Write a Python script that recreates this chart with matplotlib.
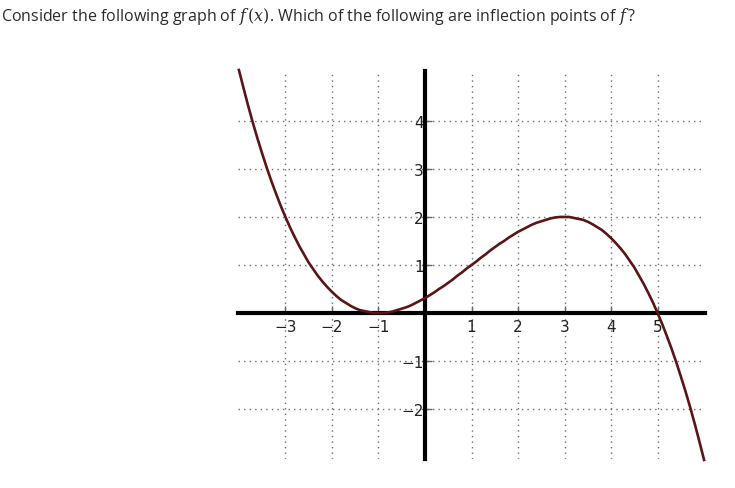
import numpy as np
import matplotlib
matplotlib.use("Agg")
import matplotlib.pyplot as plt

# Values, every 0.1 along x
x_vals = [-4.0, -3.9, -3.8, -3.7, -3.6, -3.5, -3.4, -3.3, -3.2, -3.1,
          -3.0, -2.9, -2.8, -2.7, -2.6, -2.5, -2.4, -2.3, -2.2, -2.1,
          -2.0, -1.9, -1.8, -1.7, -1.6, -1.5, -1.4, -1.3, -1.2, -1.1,
          -1.0, -0.9, -0.8, -0.7, -0.6, -0.5, -0.4, -0.3, -0.2, -0.1,
          0.0, 0.1, 0.2, 0.3, 0.4, 0.5, 0.6, 0.7, 0.8, 0.9,
          1.0, 1.1, 1.2, 1.3, 1.4, 1.5, 1.6, 1.7, 1.8, 1.9,
          2.0, 2.1, 2.2, 2.3, 2.4, 2.5, 2.6, 2.7, 2.8, 2.9,
          3.0, 3.1, 3.2, 3.3, 3.4, 3.5, 3.6, 3.7, 3.8, 3.9,
          4.0, 4.1, 4.2, 4.3, 4.4, 4.5, 4.6, 4.7, 4.8, 4.9,
          5.0, 5.1, 5.2, 5.3, 5.4, 5.5, 5.6, 5.7, 5.8, 5.9, 6.0]
y_vals = [5.06, 4.68, 4.31, 3.96, 3.63, 3.32, 3.02, 2.74, 2.48, 2.23,
          2.00, 1.78, 1.58, 1.39, 1.22, 1.05, 0.91, 0.77, 0.65, 0.54,
          0.44, 0.35, 0.27, 0.21, 0.15, 0.10, 0.06, 0.04, 0.02, 0.00,
          0.00, 0.00, 0.01, 0.03, 0.06, 0.09, 0.12, 0.16, 0.21, 0.26,
          0.31, 0.37, 0.43, 0.50, 0.56, 0.63, 0.70, 0.78, 0.85, 0.93,
          1.00, 1.07, 1.15, 1.22, 1.30, 1.37, 1.44, 1.50, 1.57, 1.63,
          1.69, 1.74, 1.79, 1.84, 1.88, 1.91, 1.94, 1.97, 1.99, 2.00,
          2.00, 2.00, 1.98, 1.96, 1.94, 1.90, 1.85, 1.79, 1.73, 1.65,
          1.56, 1.46, 1.35, 1.23, 1.09, 0.95, 0.78, 0.61, 0.42, 0.22,
          0.00, -0.23, -0.48, -0.74, -1.02, -1.32, -1.63, -1.96, -2.31, -2.68, -3.06]

x_ticks = [-3, -2, -1, 1, 2, 3, 4, 5]
y_ticks = [-2, -1, 1, 2, 3, 4]
question = r"Consider the following graph of $f\,(x)$. Which of the following are inflection points of $f\,$?"

plt.rcParams["mathtext.fontset"] = "dejavuserif"

fig = plt.figure(figsize=(7.35, 4.89), dpi=100)
fig.text(0.002, 0.966, question, ha="left", va="center", fontsize=11.5,
         family="Open Sans", color="#2b2b2b")

ax = fig.add_axes([0.3238, 0.0593, 0.6354, 0.7935])
ax.set_xlim(-4.02, 6.02)
ax.set_ylim(-3.04, 5.04)

ax.set_xticks(x_ticks)
ax.set_yticks(y_ticks)
ax.set_xticklabels([str(t).replace("-", "\u2212") for t in x_ticks])
ax.set_yticklabels([str(t).replace("-", "\u2212") for t in y_ticks])
ax.grid(True, linestyle=(0, (1, 3)), color="#6e6e6e", linewidth=1.0)

for side in ["top", "right"]:
    ax.spines[side].set_visible(False)
ax.spines["left"].set_position(("data", 0))
ax.spines["bottom"].set_position(("data", 0))
ax.spines["left"].set_linewidth(3)
ax.spines["bottom"].set_linewidth(3)

ax.tick_params(axis="both", direction="in", length=5, width=1,
               color="#666666", labelsize=11, labelcolor="#222222", pad=4)
ax.tick_params(axis="y", pad=1)

ax.plot(x_vals, y_vals, color="#5a1616", linewidth=1.9, zorder=3,
        clip_on=False)

fig.savefig("out.png", dpi=100)
